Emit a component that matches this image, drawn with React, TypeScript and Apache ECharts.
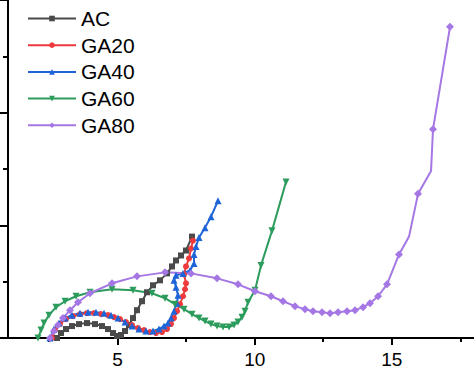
import React, { useEffect, useRef } from "react";
import * as echarts from "echarts";

const seriesNames = ["AC", "GA20", "GA40", "GA60", "GA80"];
const colors = ["#4a4a4a", "#ee3a3c", "#1c64d8", "#2c9c5c", "#a577e4"];
const symbols = ["rect", "circle", "triangle", "path://M0,0L10,0L5,9Z", "diamond"];
const symbolSizes = [6, 6, 7, 7, 8];

const acData: number[][] = [
  [2.788, 0], [2.934, 0.176], [3.116, 0.318], [3.335, 0.424], [3.59, 0.494],
  [3.882, 0.53], [4.174, 0.494], [4.429, 0.424], [4.648, 0.318], [4.831, 0.176],
  [4.977, 0.071], [5.123, 0.106], [5.268, 0.247], [5.414, 0.459], [5.56, 0.706],
  [5.706, 0.988], [5.889, 1.306], [6.071, 1.624], [6.29, 1.871], [6.545, 2.047],
  [6.801, 2.294], [6.983, 2.541], [7.129, 2.753], [7.312, 2.93], [7.494, 3.106],
  [7.713, 3.6],
];

const ga20Data: number[][] = [
  [2.605, 0], [2.715, 0.282], [2.897, 0.494], [3.116, 0.671], [3.371, 0.777],
  [3.627, 0.847], [3.882, 0.882], [4.137, 0.882], [4.393, 0.847], [4.648, 0.812],
  [4.867, 0.741], [5.086, 0.671], [5.305, 0.565], [5.524, 0.459], [5.743, 0.353],
  [5.962, 0.282], [6.181, 0.212], [6.4, 0.176], [6.618, 0.212], [6.801, 0.318],
  [6.947, 0.494], [7.056, 0.706], [7.166, 0.953], [7.275, 1.2], [7.385, 1.483],
  [7.458, 1.73], [7.494, 1.941], [7.421, 2.259], [7.494, 2.541], [7.603, 2.824],
  [7.676, 3.177], [7.749, 3.459],
];

const ga40Data: number[][] = [
  [2.532, 0], [2.678, 0.318], [2.861, 0.53], [3.08, 0.706], [3.335, 0.812],
  [3.627, 0.882], [3.919, 0.918], [4.21, 0.918], [4.502, 0.882], [4.758, 0.812],
  [5.013, 0.706], [5.269, 0.565], [5.524, 0.424], [5.779, 0.318], [6.035, 0.247],
  [6.29, 0.247], [6.509, 0.318], [6.691, 0.424], [6.837, 0.53], [6.947, 0.706],
  [7.056, 0.953], [7.166, 1.235], [7.202, 1.518], [7.129, 1.8], [7.056, 2.047],
  [7.129, 2.224], [7.385, 2.294], [7.64, 2.4], [7.786, 2.647], [7.786, 2.965],
  [7.859, 3.247], [7.968, 3.565], [8.187, 3.918], [8.406, 4.306], [8.661, 4.871],
];

const ga60Data: number[][] = [
  [2.094, 0], [2.204, 0.282], [2.313, 0.53], [2.496, 0.812], [2.751, 1.094],
  [3.08, 1.306], [3.481, 1.483], [3.992, 1.624], [4.794, 1.73], [5.56, 1.694],
  [6.254, 1.588], [6.728, 1.412], [7.093, 1.2], [7.421, 1.024], [7.713, 0.847],
  [7.968, 0.706], [8.187, 0.6], [8.406, 0.494], [8.625, 0.424], [8.844, 0.388],
  [9.063, 0.388], [9.245, 0.459], [9.391, 0.565], [9.537, 0.741], [9.646, 0.953],
  [9.756, 1.271], [10.011, 1.694], [10.23, 2.577], [10.632, 3.812], [11.142, 5.542],
];

const ga80Data: number[][] = [
  [2.532, 0], [2.678, 0.247], [2.824, 0.459], [3.007, 0.706], [3.262, 0.988],
  [3.554, 1.271], [3.992, 1.588], [4.794, 1.941], [5.706, 2.188], [6.728, 2.33],
  [7.676, 2.294], [8.625, 2.118], [9.391, 1.906], [10.011, 1.659], [10.595, 1.483],
  [11.033, 1.306], [11.471, 1.13], [11.835, 1.024], [12.127, 0.953], [12.456, 0.918],
  [12.748, 0.882], [13.04, 0.918], [13.368, 0.953], [13.66, 0.988], [13.952, 1.094],
  [14.207, 1.235], [14.499, 1.483], [14.827, 1.906], [15.265, 2.965], [15.63, 3.6],
  [15.958, 5.118], [16.432, 5.93], [16.505, 7.413], [17.125, 11.048],
];
// points drawn without a marker in the reference (line bends only)
const ga80Unmarked = [29, 31];

const allData = [acData, ga20Data, ga40Data, ga60Data, ga80Data];

const xMajorTicks = [5, 10, 15];
const xMinorTicks = [2.5, 7.5, 12.5, 17.5];

export default function App() {
  const ref = useRef<HTMLDivElement>(null);
  useEffect(() => {
    if (!ref.current) return;
    const chart = echarts.init(ref.current, null, { renderer: "svg" });
    const font = "'Liberation Sans', Arial, sans-serif";
    const series = seriesNames.map((name, i) => ({
      name,
      type: "line",
      xAxisIndex: 0,
      yAxisIndex: 0,
      data: allData[i].map((p, j) =>
        i === 4 && ga80Unmarked.includes(j)
          ? { value: p, symbol: "none" }
          : { value: p }
      ),
      symbol: symbols[i],
      symbolSize: symbolSizes[i],
      showAllSymbol: true,
      color: colors[i],
      lineStyle: { width: 2, color: colors[i] },
      itemStyle: { color: colors[i] },
      emphasis: { disabled: true },
    }));
    chart.setOption({
      animation: false,
      grid: { left: 8, right: 0, top: 0, bottom: 29 },
      legend: {
        orient: "vertical",
        left: 27,
        top: 8,
        padding: 0,
        itemWidth: 48,
        itemHeight: 7,
        itemGap: 5.7,
        textStyle: { fontSize: 21, lineHeight: 21, color: "#000", fontFamily: font },
        data: seriesNames,
      },
      xAxis: [
        {
          type: "value",
          min: 1,
          max: 18,
          position: "bottom",
          axisLine: { show: true, onZero: false, lineStyle: { color: "#000", width: 2 } },
          axisTick: { show: true, customValues: xMajorTicks, length: 7, lineStyle: { color: "#000", width: 2 } },
          axisLabel: { customValues: xMajorTicks, fontSize: 19, color: "#000", fontFamily: font, margin: 12 },
          splitLine: { show: false },
        },
        {
          type: "value",
          min: 1,
          max: 18,
          position: "bottom",
          axisLine: { show: false },
          axisTick: { show: true, customValues: xMinorTicks, length: 4, lineStyle: { color: "#000", width: 2 } },
          axisLabel: { show: false },
          splitLine: { show: false },
        },
      ],
      yAxis: {
        type: "value",
        min: 0,
        max: 12,
        interval: 4,
        axisLine: { show: true, onZero: false, lineStyle: { color: "#000", width: 2 } },
        axisTick: { show: true, length: 8, lineStyle: { color: "#000", width: 2 } },
        minorTick: { show: true, splitNumber: 2, length: 5, lineStyle: { color: "#000", width: 2 } },
        axisLabel: { show: false },
        splitLine: { show: false },
        minorSplitLine: { show: false },
      },
      series,
    });
    return () => chart.dispose();
  }, []);
  return (
    <div
      ref={ref}
      style={{ position: "fixed", left: 0, top: 0, width: 474, height: 369, background: "#fff" }}
    />
  );
}
